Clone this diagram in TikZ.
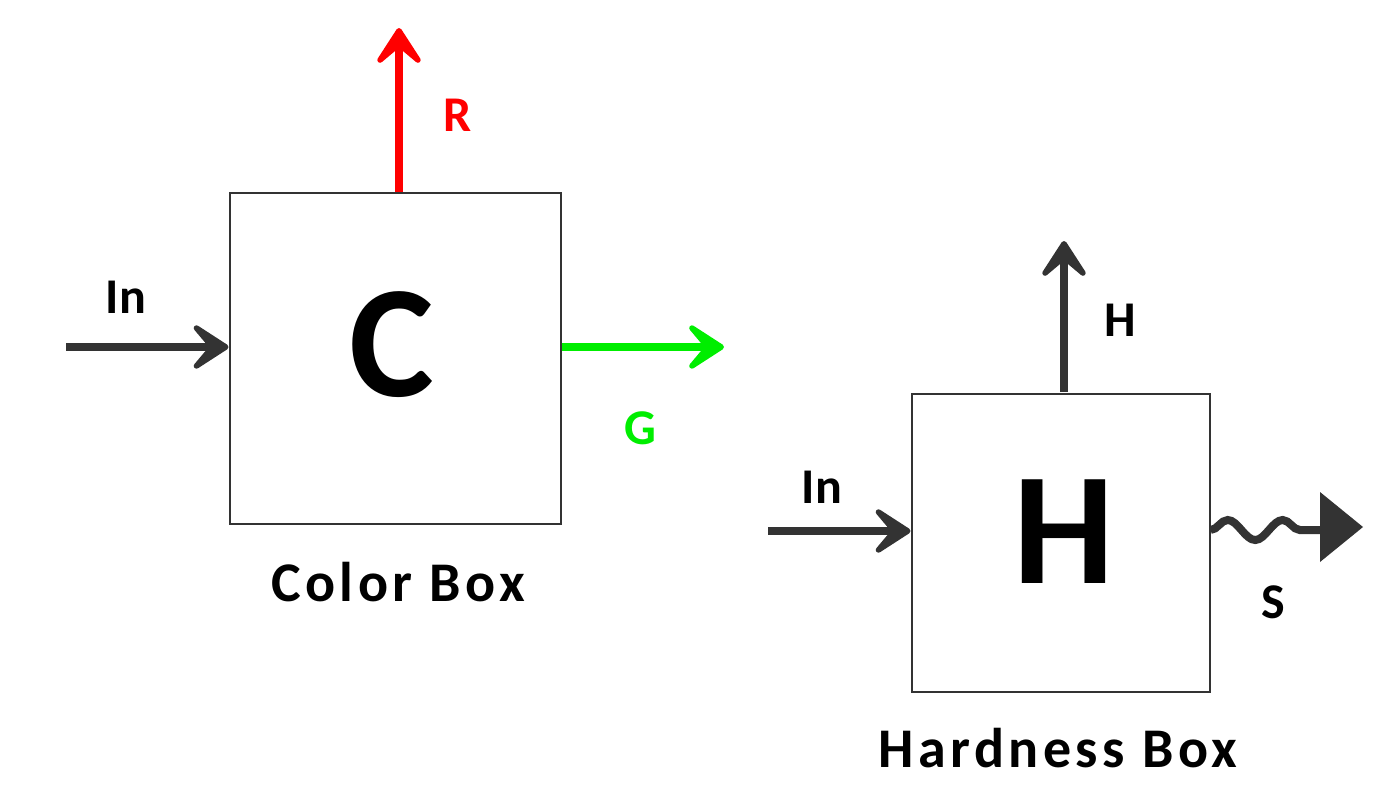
\documentclass[tikz,border=0pt]{standalone}
\usepackage{fontspec}
\setmainfont{Carlito}
\usetikzlibrary{arrows.meta,decorations.pathmorphing}
\definecolor{dk}{HTML}{333333}
\definecolor{gr}{HTML}{00EE00}
\begin{document}
\begin{tikzpicture}[x=1pt,y=-1pt,
  boxst/.style={draw=dk,line width=2pt,minimum width=#1,minimum height=#1,inner sep=0pt},
  arr/.style={line width=8pt,-{Stealth[length=48pt,width=62pt,inset=26pt,round]}},
  lbl/.style={font=\bfseries\fontsize{50}{54}\selectfont},
  captxt/.style={font=\bfseries\fontsize{56}{60}\selectfont\addfontfeature{LetterSpace=8}},
  big/.style={font=\bfseries\fontsize{160}{160}\selectfont}]
\useasboundingbox (0,0) rectangle (1400,788);
\node[boxst=331pt] (cb) at (395,358.5) {};
\node[big] at (392,345) {C};
\node[captxt] (cbl) at (398,582) {Color Box};
\coordinate (rtop) at (399,28);
\draw[arr,red] (cb.north) ++(4,0) -- (rtop);
\node[lbl,red] at (458,115) {R};
\coordinate (inc) at (66,347);
\draw[arr,dk] (inc) -- (cb.west |- inc);
\node[lbl] at (126,297) {In};
\coordinate (gend) at (724,347);
\draw[arr,gr] (cb.east |- gend) -- (gend);
\node[lbl,gr] at (640,428) {G};

\node[boxst=298pt] (hb) at (1060.5,542.5) {};
\node[big] at (1064,532) {H};
\node[captxt] at (1058,748) {Hardness Box};
\coordinate (htop) at (1064,241);
\draw[arr,dk] (1064,392) -- (htop);
\node[lbl] at (1120,320) {H};
\coordinate (inh) at (768,531);
\draw[arr,dk] (inh) -- (hb.west |- inh);
\node[lbl] at (822,487) {In};
\coordinate (wend) at (1322,530);
\draw[dk,line width=8pt,decorate,decoration={snake,segment length=55pt,amplitude=10pt}] (hb.east |- wend) -- (wend);
\fill[dk] (1320,492) -- (1363,527) -- (1320,562) -- cycle;
\node[lbl] at (1273,602) {S};
\end{tikzpicture}
\end{document}
